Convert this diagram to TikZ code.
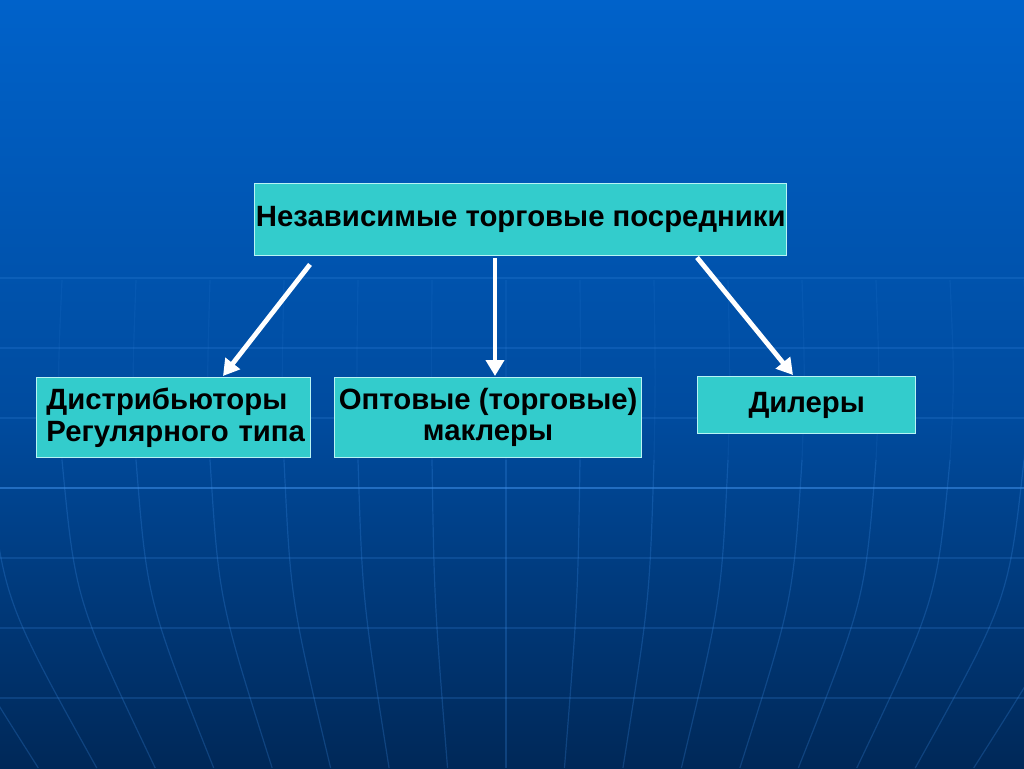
\documentclass[tikz,border=0pt]{standalone}
\usepackage{fontspec}
\setmainfont{Liberation Sans}
\usetikzlibrary{arrows.meta}
\definecolor{bgtop}{HTML}{0062CA}
\definecolor{bgmid}{HTML}{004B9E}
\definecolor{bgbot}{HTML}{002858}
\definecolor{boxfill}{HTML}{33CCCC}
\definecolor{boxline}{HTML}{B8F4F4}
\definecolor{gridc}{HTML}{3F8FE8}
\tikzset{
  box/.style={draw=boxline, line width=1.1pt, fill=boxfill, anchor=north west,
    font=\fontsize{22}{23.5}\selectfont\bfseries, text=black, inner sep=0pt},
  arr/.style={draw=white, line width=3.6pt, -{Triangle[length=12pt,width=13.5pt]}},
  gridline/.style={draw=gridc, line width=0.9pt, opacity=0.2},
}
\begin{document}
\begin{tikzpicture}[x=0.75pt,y=-0.75pt]
\useasboundingbox (0,0) rectangle (1024,768);
\shade[top color=bgtop, bottom color=bgmid] (0,0) rectangle (1024,420);
\shade[top color=bgmid, bottom color=bgbot] (0,420) rectangle (1024,768);
% horizontal grid
\foreach \yy in {278,348,418,558,628,698} {\draw[gridline] (0,\yy) -- (1024,\yy);}
\draw[gridline, opacity=0.55, line width=1.5pt] (0,488) -- (1024,488);
% meridians
\foreach \d in {-666,-592,-518,-444,-370,-296,-222,-148,-74,0,74,148,222,296,370,444,518,592,666} {
  \draw[gridline, opacity=0.1] (506+1.0*\d,280) .. controls (506+1.01*\d,380) .. (506+1.0*\d,460);
  \draw[gridline, opacity=0.25] (506+1.0*\d,460) .. controls (506+0.97*\d,600) .. (506+0.79*\d,768);
}
% boxes
\node[box, minimum width=399pt, minimum height=54pt] (top) at (254,183) {Независимые торговые посредники};
\node[box, minimum width=205.5pt, minimum height=60pt, align=left, inner xsep=7pt, text width=191pt] (dist) at (36,377) {Дистрибьюторы\\Регулярного~типа};
\node[box, minimum width=230pt, minimum height=60pt, align=center] (mid) at (334,377) {Оптовые (торговые)\\маклеры};
\node[box, minimum width=163.5pt, minimum height=42.75pt] (deal) at (697,376) {Дилеры};
% arrows
\path (top.south west) ++(56,8) coordinate (s1);
\path (dist.north west) ++(187,-1) coordinate (e1);
\path (top.south west) ++(241,2) coordinate (s2);
\path (mid.north west) ++(161,-1) coordinate (e2);
\path (top.south west) ++(443,1) coordinate (s3);
\path (deal.north west) ++(96,-1) coordinate (e3);
\draw[arr] (s1) -- (e1);
\draw[arr] (s2) -- (e2);
\draw[arr] (s3) -- (e3);
\end{tikzpicture}
\end{document}
